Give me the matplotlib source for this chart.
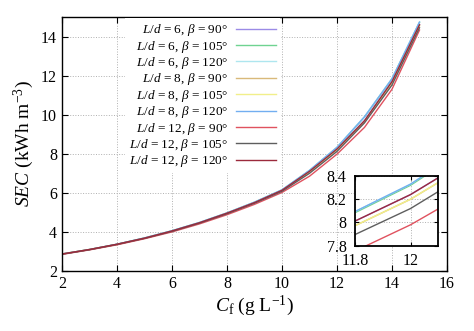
import matplotlib
matplotlib.use("Agg")
import matplotlib.pyplot as plt

plt.rcParams['font.family'] = ['Liberation Serif', 'DejaVu Serif']
plt.rcParams['mathtext.fontset'] = 'custom'
plt.rcParams['mathtext.rm'] = 'Liberation Serif'
plt.rcParams['mathtext.it'] = 'Liberation Serif:italic'

# feed concentration (g/L)
cf = [2, 3, 4, 5, 6, 7, 8, 9, 10, 11, 12, 13, 14, 15]

# SEC (kWh/m3) for each L/d, beta combination
sec_6_90 = [2.87, 3.10, 3.37, 3.69, 4.05, 4.47, 4.96, 5.51, 6.13, 7.10, 8.24, 9.70, 11.70, 14.62]
sec_6_105 = [2.87, 3.10, 3.37, 3.69, 4.06, 4.48, 4.97, 5.52, 6.15, 7.14, 8.32, 9.88, 11.83, 14.72]
sec_6_120 = [2.87, 3.10, 3.37, 3.69, 4.06, 4.49, 4.98, 5.53, 6.16, 7.15, 8.33, 9.90, 11.85, 14.75]
sec_8_90 = [2.87, 3.10, 3.36, 3.68, 4.04, 4.46, 4.95, 5.50, 6.12, 7.06, 8.20, 9.64, 11.62, 14.55]
sec_8_105 = [2.87, 3.10, 3.36, 3.68, 4.04, 4.46, 4.95, 5.50, 6.12, 7.06, 8.20, 9.64, 11.61, 14.54]
sec_8_120 = [2.87, 3.10, 3.37, 3.69, 4.06, 4.48, 4.97, 5.52, 6.15, 7.15, 8.33, 9.89, 11.84, 14.74]
sec_12_90 = [2.85, 3.08, 3.34, 3.65, 4.00, 4.41, 4.88, 5.41, 6.02, 6.85, 7.98, 9.35, 11.30, 14.33]
sec_12_105 = [2.86, 3.09, 3.36, 3.67, 4.03, 4.45, 4.93, 5.47, 6.08, 7.00, 8.12, 9.58, 11.52, 14.45]
sec_12_120 = [2.87, 3.10, 3.37, 3.68, 4.05, 4.47, 4.96, 5.50, 6.13, 7.10, 8.24, 9.69, 11.69, 14.60]

series = [
    (6, 90, sec_6_90, '#9b8be6'),
    (6, 105, sec_6_105, '#6fd391'),
    (6, 120, sec_6_120, '#aee6ef'),
    (8, 90, sec_8_90, '#d9b97a'),
    (8, 105, sec_8_105, '#f1ef8a'),
    (8, 120, sec_8_120, '#72aef0'),
    (12, 90, sec_12_90, '#e0525f'),
    (12, 105, sec_12_105, '#5e5e5e'),
    (12, 120, sec_12_120, '#9b2a3c'),
]

fig = plt.figure(figsize=(4.74, 3.31), dpi=100)
ax = fig.add_axes([0.1308, 0.1813, 0.8122, 0.7673])

for ld, beta, vals, col in series:
    ax.plot(cf, vals, color=col, lw=1.0,
            label=r'$L/d$ = %d, $\beta$ = %d°' % (ld, beta))

ax.set_xlim(2, 16)
ax.set_ylim(2, 15)
ax.set_xticks(range(2, 17, 2))
ax.set_yticks(range(2, 15, 2))
ax.grid(True, color='#b0b0b0', ls=':', lw=0.7)
ax.set_axisbelow(True)
ax.tick_params(direction='in', top=True, right=True, length=4, labelsize=11.5)
for sp in ax.spines.values():
    sp.set_linewidth(1.0)
ax.set_xlabel(r'$C_{\mathrm{f}}$ (g L$^{-1}$)', fontsize=14, labelpad=1)
ax.set_ylabel(r'$SEC$ (kWh m$^{-3}$)', fontsize=14, labelpad=4)

leg = ax.legend(loc='upper right', bbox_to_anchor=(0.565, 0.995), borderaxespad=0,
                markerfirst=False, fontsize=9.5, labelspacing=0.03,
                handlelength=3.0, handletextpad=0.6, borderpad=0.3,
                fancybox=False, framealpha=1, facecolor='white', edgecolor='none')

# zoomed inset around Cf = 12
ins = fig.add_axes([0.749, 0.2577, 0.1757, 0.2106])
for ld, beta, vals, col in series:
    ins.plot(cf, vals, color=col, lw=1.0)
ins.set_xlim(11.8, 12.1)
ins.set_ylim(7.8, 8.4)
ins.set_xticks([11.8, 12])
ins.set_xticklabels(['11.8', '12'])
ins.set_yticks([7.8, 8.0, 8.2, 8.4])
ins.set_yticklabels(['7.8', '8', '8.2', '8.4'])
ins.grid(True, color='#b0b0b0', ls=':', lw=0.7)
ins.tick_params(direction='in', top=True, right=True, length=3, labelsize=11.5)
ins.tick_params(axis='x', pad=5)
ins.tick_params(axis='y', pad=6)
for sp in ins.spines.values():
    sp.set_linewidth(1.3)

fig.savefig('out.png', dpi=100)
